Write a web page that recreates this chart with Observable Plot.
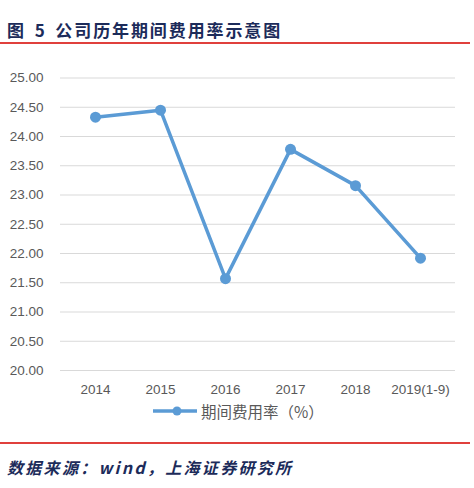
<!DOCTYPE html>
<html>
<head>
<meta charset="utf-8">
<script src="https://cdn.jsdelivr.net/npm/d3@7"></script>
<script src="https://cdn.jsdelivr.net/npm/@observablehq/plot@0.6"></script>
<style>
  html, body { margin: 0; padding: 0; background: #fff; }
  #wrap { position: relative; width: 474px; height: 488px; overflow: hidden; }
  #title { position: absolute; left: 7px; top: 19px; font-family: "Noto Sans CJK SC", sans-serif; font-weight: 700; font-size: 17px; letter-spacing: 1.9px; color: #1c2b5a; line-height: 22px; white-space: nowrap; }
  #title .sp { display: inline-block; width: 3px; }
  .redline { position: absolute; left: 0; width: 470px; height: 2px; background: #e0403c; }
  #chart { position: absolute; left: 0; top: 50px; }
  #legend { position: absolute; left: 153px; top: 400px; height: 22px; display: flex; align-items: center; font-family: "Noto Sans CJK SC", sans-serif; font-size: 15.5px; color: #595959; white-space: nowrap; }
  #source { position: absolute; left: 7px; top: 456px; font-family: "Noto Sans CJK SC", sans-serif; font-style: italic; font-weight: 700; font-size: 16px; letter-spacing: 2.3px; color: #1c2b5a; line-height: 22px; white-space: nowrap; }
</style>
</head>
<body>
<div id="wrap">
  <div id="title">图<span class="sp"></span> 5<span class="sp"></span> 公司历年期间费用率示意图</div>
  <div class="redline" style="top:42px"></div>
  <div id="chart"></div>
  <div id="legend"></div>
  <div class="redline" style="top:442px"></div>
  <div id="source">数据来源：wind，上海证券研究所</div>
</div>
<script>
const years = ["2014", "2015", "2016", "2017", "2018", "2019(1-9)"];
const rates = [24.33, 24.45, 21.57, 23.78, 23.16, 21.92];
const yTicks = [20, 20.5, 21, 21.5, 22, 22.5, 23, 23.5, 24, 24.5, 25];
const seriesName = "期间费用率（%）";

const blue = "#5b9bd5";
const data = years.map((y, i) => ({year: y, value: rates[i]}));

const chart = Plot.plot({
  width: 474,
  height: 350,
  marginLeft: 60,
  marginRight: 19,
  marginTop: 27.5,
  marginBottom: 30,
  style: { fontFamily: "'Liberation Sans', sans-serif", fontSize: "13.5px", color: "#595959", background: "transparent" },
  x: { type: "point", domain: years, padding: 0.5, label: null },
  y: { domain: [20, 25], label: null },
  marks: [
    Plot.ruleY(yTicks, { stroke: "#d9d9d9", strokeWidth: 1 }),
    Plot.axisY({ ticks: yTicks, tickFormat: d => d.toFixed(2), tickSize: 0, tickPadding: 17, label: null, fill: "#595959" }),
    Plot.axisX({ tickSize: 0, tickPadding: 14, label: null, fill: "#595959" }),
    Plot.line(data, { x: "year", y: "value", stroke: blue, strokeWidth: 3.5 }),
    Plot.dot(data, { x: "year", y: "value", fill: blue, r: 5.5 })
  ]
});
document.getElementById("chart").appendChild(chart);

const leg = document.getElementById("legend");
leg.innerHTML = `<svg width="46" height="12" style="margin-right:2px"><line x1="0" y1="6" x2="44" y2="6" stroke="${blue}" stroke-width="3.5"/><circle cx="24" cy="6" r="4.5" fill="${blue}"/></svg><span>${seriesName}</span>`;
</script>
</body>
</html>
